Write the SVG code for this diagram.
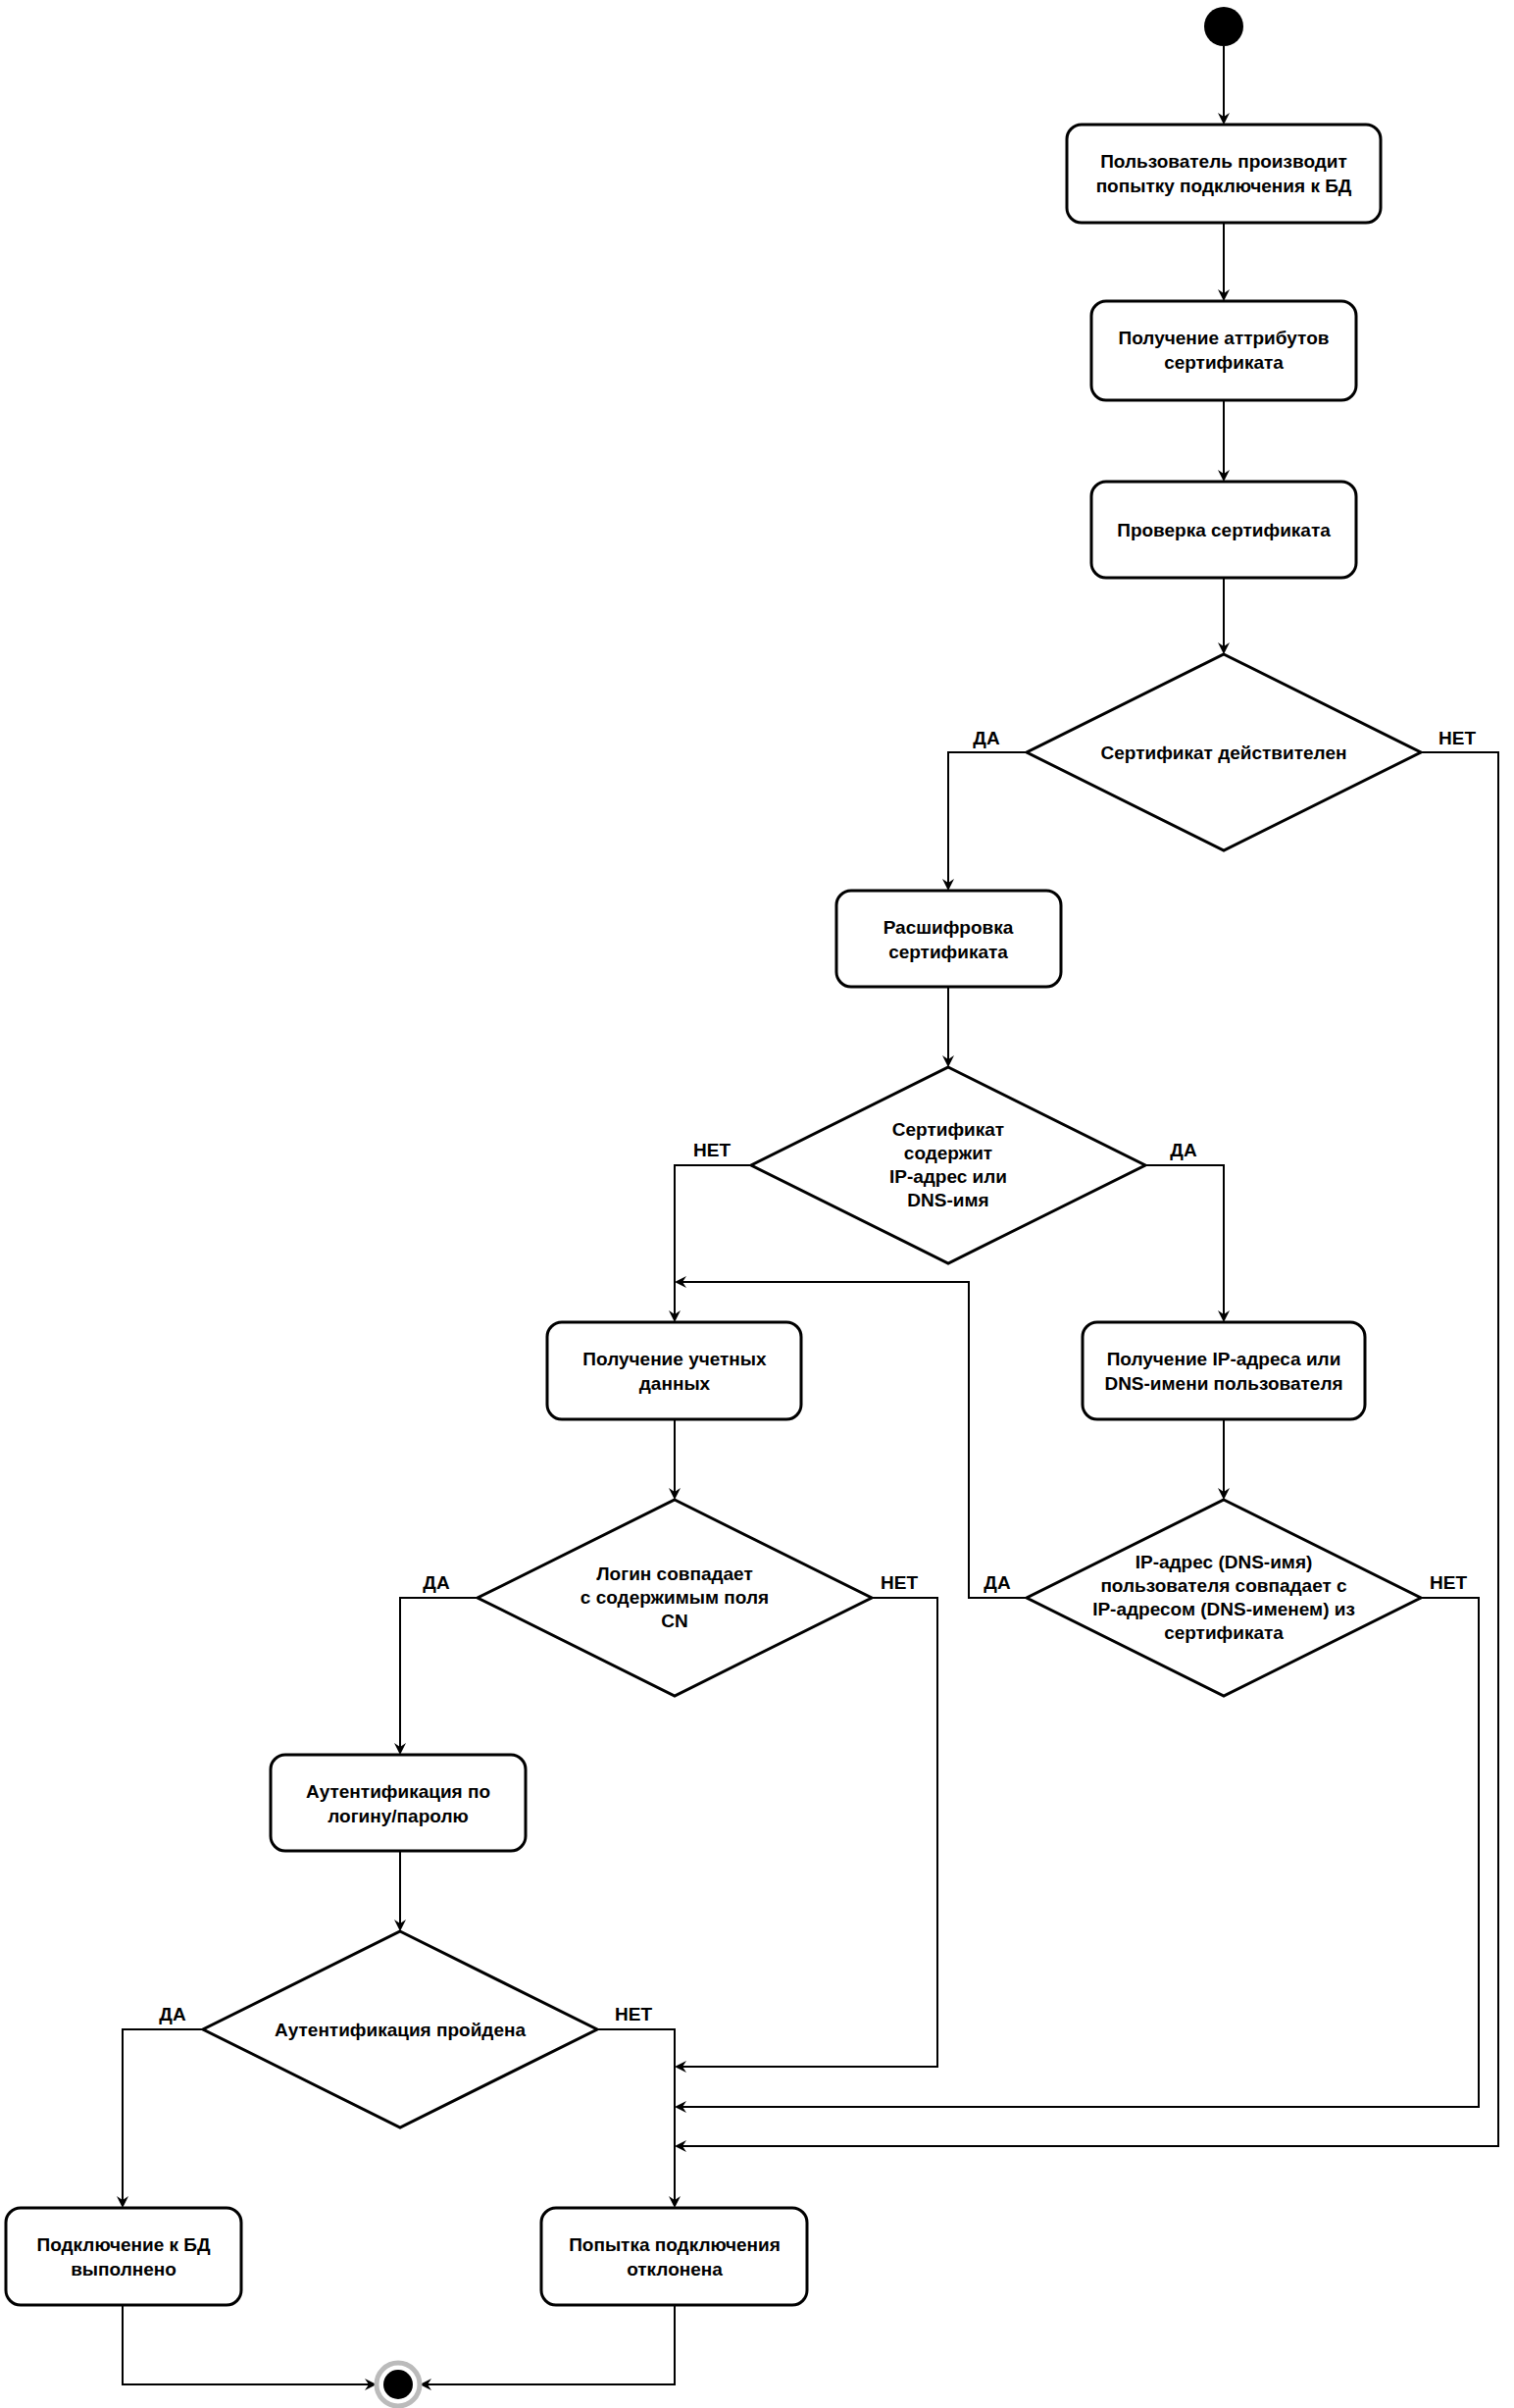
<svg xmlns="http://www.w3.org/2000/svg" width="1544" height="2455" viewBox="0 0 1544 2455">
<style>
.n{fill:#fff;stroke:#000;stroke-width:3}
.t{font-family:"Liberation Sans",Arial,sans-serif;font-weight:bold;font-size:19px;text-anchor:middle;fill:#000}
.c{fill:none;stroke:#000;stroke-width:2}
.l{font-family:"Liberation Sans",Arial,sans-serif;font-weight:bold;font-size:19px;fill:#000;text-anchor:middle}
</style>
<defs>
<marker id="a" markerWidth="12" markerHeight="12" refX="10" refY="6" orient="auto" markerUnits="userSpaceOnUse">
<path d="M0,0 L12,6 L0,12 L4,6 Z" fill="#000"/>
</marker>
</defs>
<rect width="1544" height="2455" fill="#fff"/>
<g id="connectors">
<path class="c" d="M1248,47 V125" marker-end="url(#a)"/>
<path class="c" d="M1248,227 V305" marker-end="url(#a)"/>
<path class="c" d="M1248,408 V489" marker-end="url(#a)"/>
<path class="c" d="M1248,589 V665" marker-end="url(#a)"/>
<path class="c" d="M1047,767 H967 V906" marker-end="url(#a)"/>
<path class="c" d="M1449,767 H1528 V2188 H690" marker-end="url(#a)"/>
<path class="c" d="M967,1006 V1086" marker-end="url(#a)"/>
<path class="c" d="M766,1188 H688 V1346" marker-end="url(#a)"/>
<path class="c" d="M1168,1188 H1248 V1346" marker-end="url(#a)"/>
<path class="c" d="M688,1447 V1527" marker-end="url(#a)"/>
<path class="c" d="M1248,1447 V1527" marker-end="url(#a)"/>
<path class="c" d="M1047,1629 H988 V1307 H690" marker-end="url(#a)"/>
<path class="c" d="M1449,1629 H1508 V2148 H690" marker-end="url(#a)"/>
<path class="c" d="M487,1629 H408 V1787" marker-end="url(#a)"/>
<path class="c" d="M889,1629 H956 V2107 H690" marker-end="url(#a)"/>
<path class="c" d="M408,1887 V1967" marker-end="url(#a)"/>
<path class="c" d="M207,2069 H125 V2249" marker-end="url(#a)"/>
<path class="c" d="M609,2069 H688 V2249" marker-end="url(#a)"/>
<path class="c" d="M125,2350 V2431 H382" marker-end="url(#a)"/>
<path class="c" d="M688,2350 V2431 H430" marker-end="url(#a)"/>
<text class="l" x="1006" y="759">ДА</text>
<text class="l" x="1486" y="759">НЕТ</text>
<text class="l" x="726" y="1179">НЕТ</text>
<text class="l" x="1207" y="1179">ДА</text>
<text class="l" x="1017" y="1620">ДА</text>
<text class="l" x="1477" y="1620">НЕТ</text>
<text class="l" x="445" y="1620">ДА</text>
<text class="l" x="917" y="1620">НЕТ</text>
<text class="l" x="176" y="2060">ДА</text>
<text class="l" x="646" y="2060">НЕТ</text>
</g>
<g id="start"><circle cx="1248" cy="27" r="20" fill="#000"/></g>
<g id="n1"><rect class="n" x="1088" y="127" width="320" height="100" rx="15"/><text class="t" x="1248" y="171">Пользователь производит</text><text class="t" x="1248" y="196">попытку подключения к БД</text></g>
<g id="n2"><rect class="n" x="1113" y="307" width="270" height="101" rx="15"/><text class="t" x="1248" y="351">Получение аттрибутов</text><text class="t" x="1248" y="376">сертификата</text></g>
<g id="n3"><rect class="n" x="1113" y="491" width="270" height="98" rx="15"/><text class="t" x="1248" y="547">Проверка сертификата</text></g>
<g id="d1"><polygon class="n" points="1248,667 1449,767 1248,867 1047,767"/><text class="t" x="1248" y="774">Сертификат действителен</text></g>
<g id="n4"><rect class="n" x="853" y="908" width="229" height="98" rx="15"/><text class="t" x="967" y="952">Расшифровка</text><text class="t" x="967" y="977">сертификата</text></g>
<g id="d2"><polygon class="n" points="967,1088 1168,1188 967,1288 766,1188"/><text class="t" x="967" y="1158">Сертификат</text><text class="t" x="967" y="1182">содержит</text><text class="t" x="967" y="1206">IP-адрес или</text><text class="t" x="967" y="1230">DNS-имя</text></g>
<g id="n5"><rect class="n" x="558" y="1348" width="259" height="99" rx="15"/><text class="t" x="688" y="1392">Получение учетных</text><text class="t" x="688" y="1417">данных</text></g>
<g id="n6"><rect class="n" x="1104" y="1348" width="288" height="99" rx="15"/><text class="t" x="1248" y="1392">Получение IP-адреса или</text><text class="t" x="1248" y="1417">DNS-имени пользователя</text></g>
<g id="d3"><polygon class="n" points="688,1529 889,1629 688,1729 487,1629"/><text class="t" x="688" y="1611">Логин совпадает</text><text class="t" x="688" y="1635">с содержимым поля</text><text class="t" x="688" y="1659">CN</text></g>
<g id="d4"><polygon class="n" points="1248,1529 1449,1629 1248,1729 1047,1629"/><text class="t" x="1248" y="1599">IP-адрес (DNS-имя)</text><text class="t" x="1248" y="1623">пользователя совпадает с</text><text class="t" x="1248" y="1647">IP-адресом (DNS-именем) из</text><text class="t" x="1248" y="1671">сертификата</text></g>
<g id="n7"><rect class="n" x="276" y="1789" width="260" height="98" rx="15"/><text class="t" x="406" y="1833">Аутентификация по</text><text class="t" x="406" y="1858">логину/паролю</text></g>
<g id="d5"><polygon class="n" points="408,1969 609,2069 408,2169 207,2069"/><text class="t" x="408" y="2076">Аутентификация пройдена</text></g>
<g id="n8"><rect class="n" x="6" y="2251" width="240" height="99" rx="15"/><text class="t" x="126" y="2295">Подключение к БД</text><text class="t" x="126" y="2320">выполнено</text></g>
<g id="n9"><rect class="n" x="552" y="2251" width="271" height="99" rx="15"/><text class="t" x="688" y="2295">Попытка подключения</text><text class="t" x="688" y="2320">отклонена</text></g>
<g id="end"><circle cx="406" cy="2431" r="22" fill="#fff" stroke="#bbb" stroke-width="5"/><circle cx="406" cy="2431" r="15" fill="#000"/></g>
</svg>
